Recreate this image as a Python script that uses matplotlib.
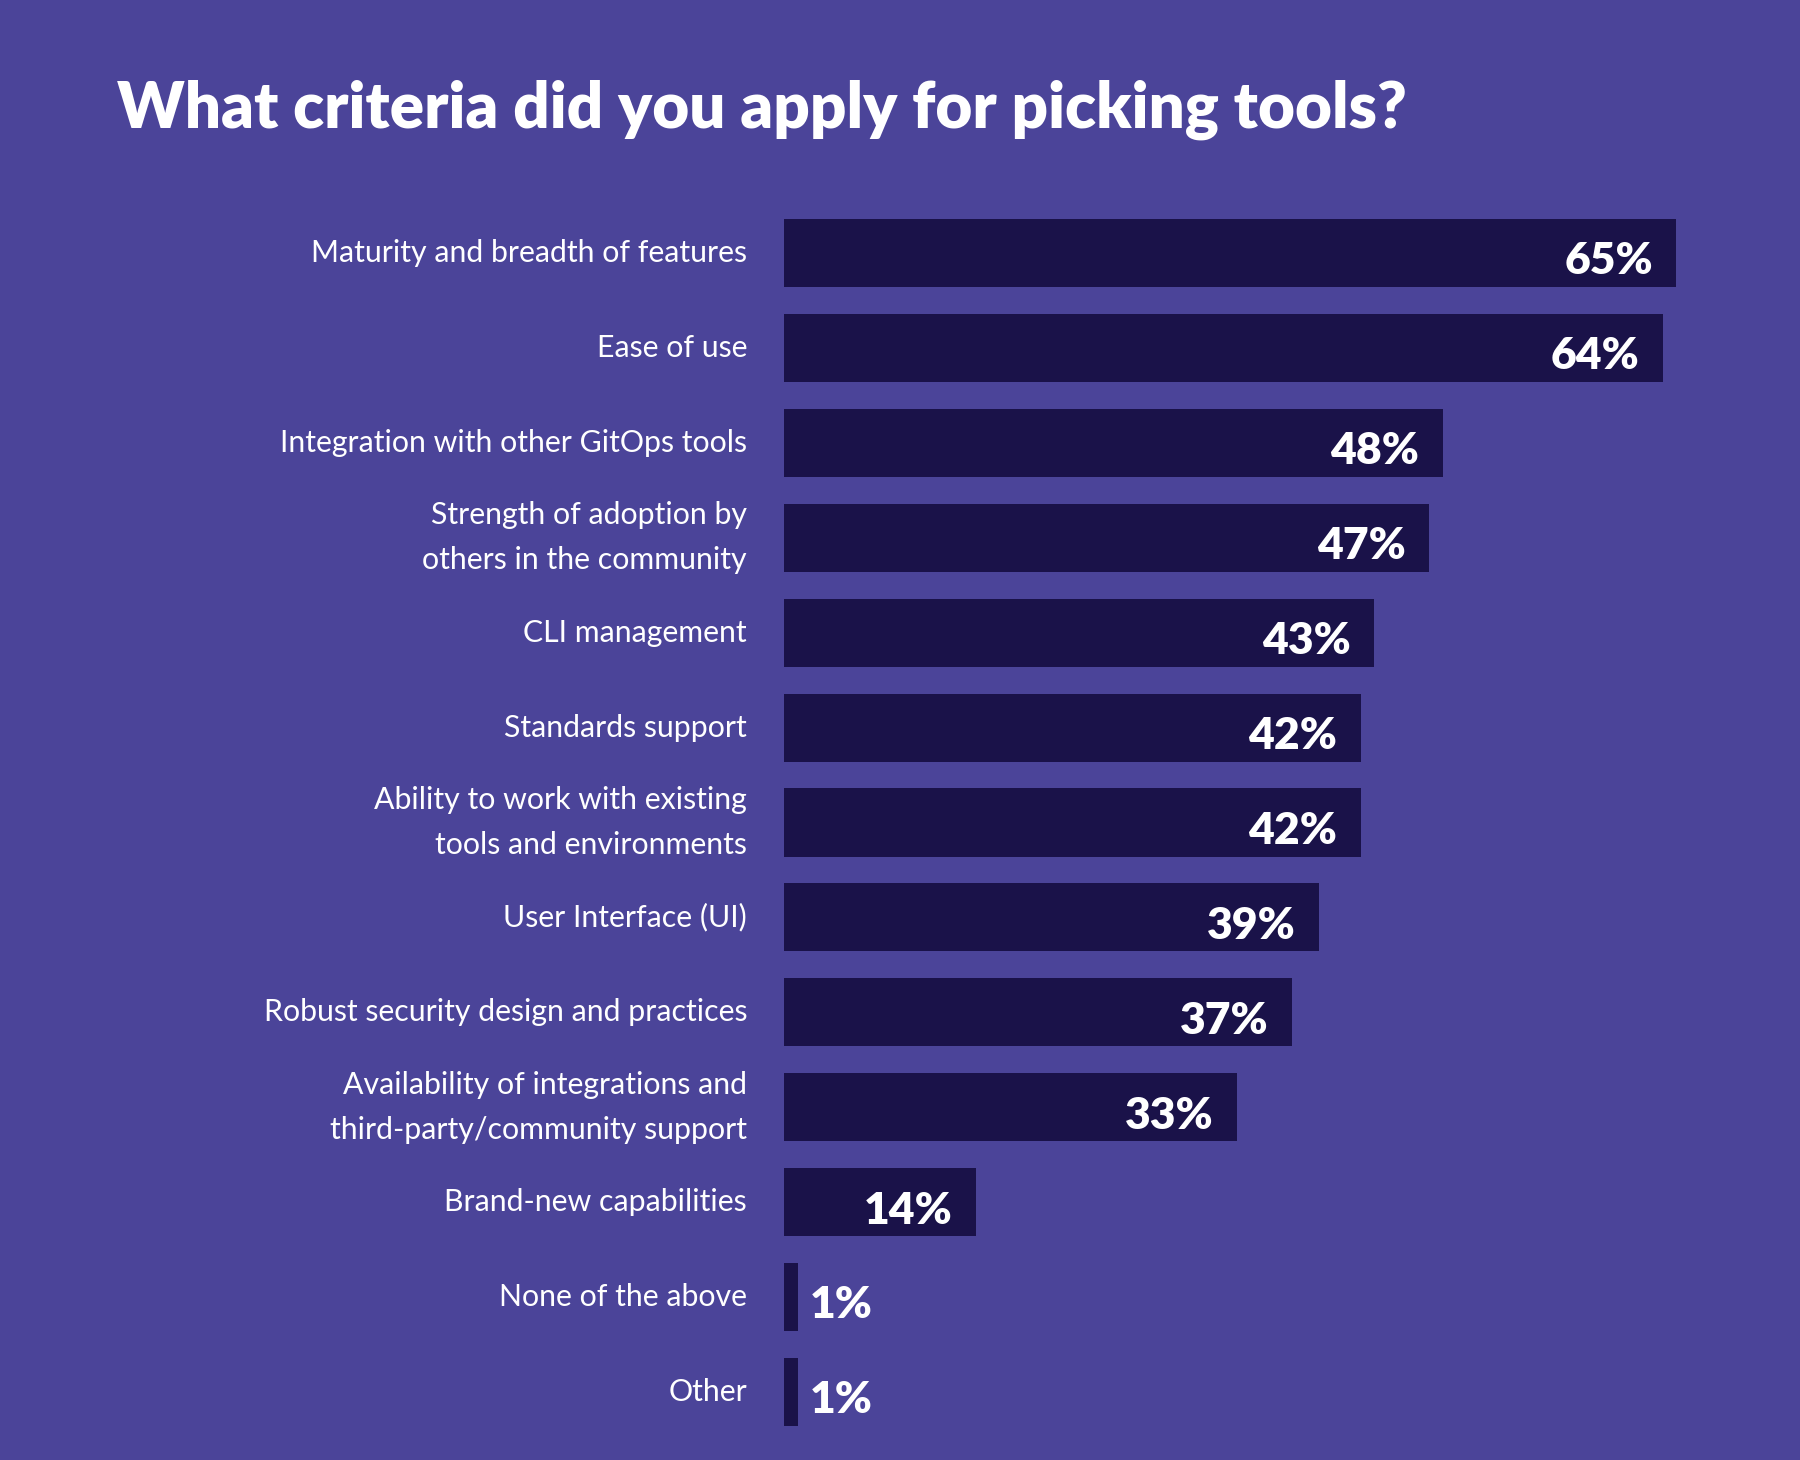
import matplotlib
matplotlib.use("Agg")
import matplotlib.pyplot as plt

BG = "#4b4499"
BAR = "#1a1249"

labels = [
    "Maturity and breadth of features",
    "Ease of use",
    "Integration with other GitOps tools",
    "Strength of adoption by\nothers in the community",
    "CLI management",
    "Standards support",
    "Ability to work with existing\ntools and environments",
    "User Interface (UI)",
    "Robust security design and practices",
    "Availability of integrations and\nthird-party/community support",
    "Brand-new capabilities",
    "None of the above",
    "Other",
]
values = [65, 64, 48, 47, 43, 42, 42, 39, 37, 33, 14, 1, 1]
title = "What criteria did you apply for picking tools?"

plt.rcParams['font.family'] = ['Lato', 'DejaVu Sans']

fig = plt.figure(figsize=(18, 14.6), dpi=100, facecolor=BG)
fig.text(117 / 1800, 1 - 110 / 1460, title, color="white", fontsize=45.8,
         fontweight="heavy", ha="left", va="center")

# bar area: 0% at x=784px, ~13.73 px per percent
ax = fig.add_axes([784 / 1800, 1 - 1439.5 / 1460, 70 * 13.73 / 1800, 1234 / 1460])
ax.set_facecolor(BG)
ypos = list(range(len(values)))
ax.barh(ypos, values, height=0.717, color=BAR)
ax.set_xlim(0, 70)
ax.set_ylim(len(values) - 0.5, -0.5)

ax.set_yticks(ypos)
ax.set_yticklabels(labels, fontsize=21.8, color="white", linespacing=1.72)
for t in ax.get_yticklabels():
    t.set_va("center")
ax.tick_params(axis="y", length=0, pad=26.6)
ax.set_xticks([])
for s in ax.spines.values():
    s.set_visible(False)

for y, v in zip(ypos, values):
    txt = f"{v}%"
    if v >= 10:
        ax.annotate(txt, (v, y), xytext=(-17, -6), textcoords="offset points",
                    ha="right", va="center", color="white", fontsize=32,
                    fontweight="heavy")
    else:
        ax.annotate(txt, (v, y), xytext=(9, -6), textcoords="offset points",
                    ha="left", va="center", color="white", fontsize=32,
                    fontweight="heavy")

fig.savefig("out.png", dpi=100, facecolor=BG)
